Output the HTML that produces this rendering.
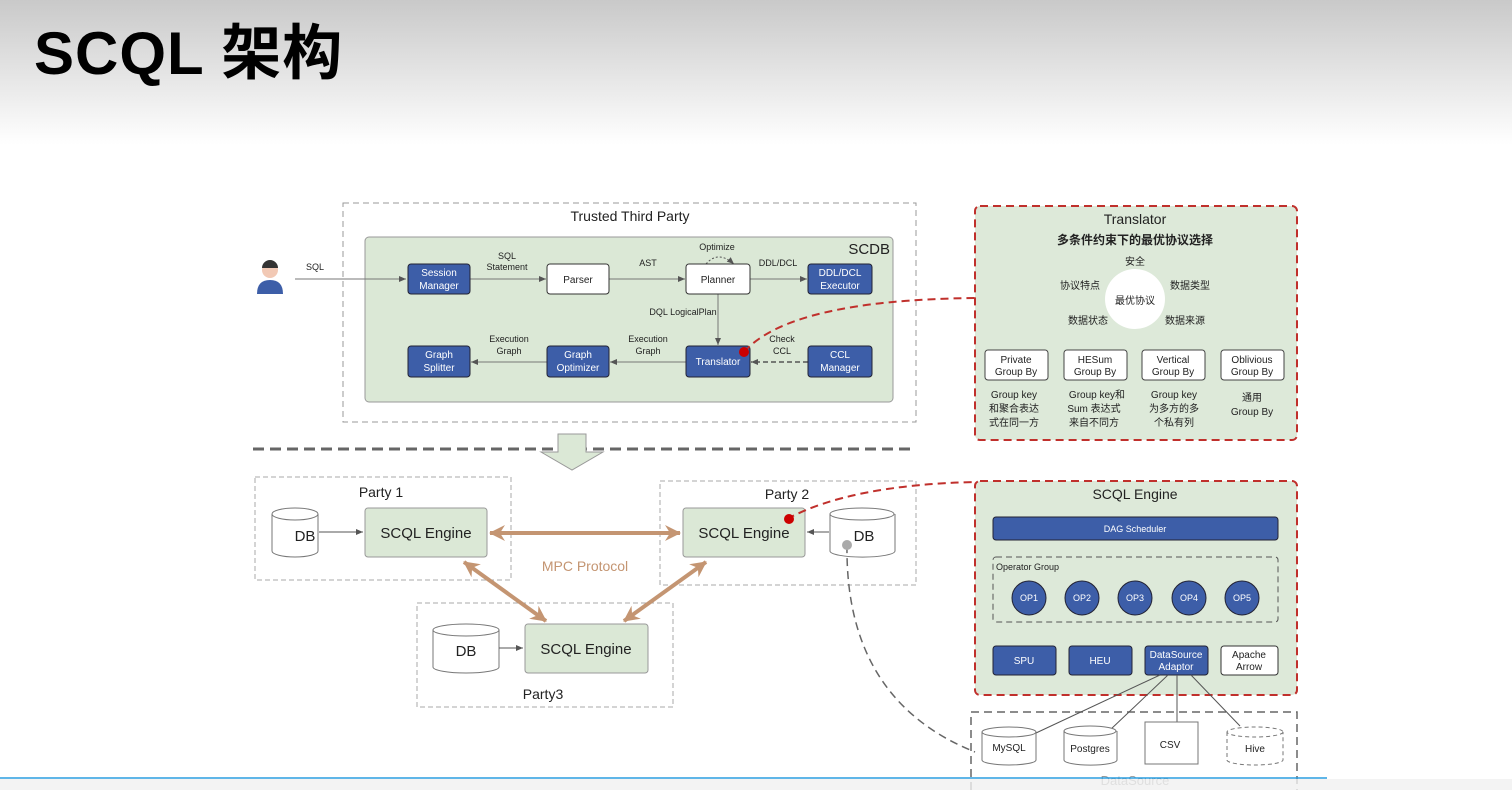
<!DOCTYPE html>
<html><head><meta charset="utf-8"><style>
html,body{margin:0;padding:0;width:1512px;height:790px;overflow:hidden;background:#fff}
svg{display:block}
text{font-family:"Liberation Sans","Noto Sans CJK SC",sans-serif}
</style></head><body>
<svg width="1512" height="790" viewBox="0 0 1512 790" xmlns="http://www.w3.org/2000/svg">
<defs>
<linearGradient id="hg" x1="0" y1="0" x2="0" y2="1">
<stop offset="0" stop-color="#c9c9c9"/><stop offset="1" stop-color="#ffffff"/>
</linearGradient>
<marker id="ar" markerWidth="8" markerHeight="8" refX="7" refY="4" orient="auto" markerUnits="userSpaceOnUse"><path d="M0,1 L7,4 L0,7 z" fill="#555"/></marker>
<marker id="br" markerWidth="18" markerHeight="16" refX="15" refY="8" orient="auto-start-reverse" markerUnits="userSpaceOnUse"><path d="M0,0 L16,8 L0,16 L5,8 z" fill="#c49572"/></marker>
</defs>
<rect x="0" y="0" width="1512" height="145" fill="url(#hg)"/>
<text x="34" y="74" font-size="60" font-weight="bold" fill="#000" letter-spacing="1">SCQL 架构</text>

<!-- Trusted third party -->
<rect x="343" y="203" width="573" height="219" fill="none" stroke="#999" stroke-dasharray="6,4"/>
<text x="630" y="221" font-size="14" text-anchor="middle" fill="#222">Trusted Third Party</text>
<rect x="365" y="237" width="528" height="165" rx="4" fill="#dbe8d6" stroke="#999"/>
<text x="890" y="254" font-size="15" text-anchor="end" fill="#222">SCDB</text>
<!-- person -->
<circle cx="270" cy="270" r="8" fill="#f2c9b5"/><path d="M262,268 a8,8 0 0 1 16,0 z" fill="#333"/>
<path d="M257,294 q0,-14 13,-14 q13,0 13,14 z" fill="#3d5ea8"/>
<g font-size="9" fill="#222" text-anchor="middle">
<line x1="295" y1="279" x2="406" y2="279" stroke="#777" marker-end="url(#ar)"/>
<text x="315" y="270">SQL</text>
<line x1="470" y1="279" x2="546" y2="279" stroke="#777" marker-end="url(#ar)"/>
<text x="507" y="259">SQL</text><text x="507" y="270">Statement</text>
<line x1="609" y1="279" x2="685" y2="279" stroke="#777" marker-end="url(#ar)"/>
<text x="648" y="266">AST</text>
<line x1="750" y1="279" x2="807" y2="279" stroke="#777" marker-end="url(#ar)"/>
<text x="778" y="266">DDL/DCL</text>
<path d="M706,264 q12,-14 28,0" fill="none" stroke="#555" stroke-dasharray="2,2" marker-end="url(#ar)"/>
<text x="717" y="250">Optimize</text>
<line x1="718" y1="294" x2="718" y2="345" stroke="#777" marker-end="url(#ar)"/>
<text x="683" y="315">DQL LogicalPlan</text>
<line x1="686" y1="362" x2="610" y2="362" stroke="#777" marker-end="url(#ar)"/>
<text x="648" y="342">Execution</text><text x="648" y="354">Graph</text>
<line x1="547" y1="362" x2="471" y2="362" stroke="#777" marker-end="url(#ar)"/>
<text x="509" y="342">Execution</text><text x="509" y="354">Graph</text>
<line x1="808" y1="362" x2="751" y2="362" stroke="#555" stroke-width="1.5" stroke-dasharray="5,3" marker-end="url(#ar)"/>
<text x="782" y="342">Check</text><text x="782" y="354">CCL</text>
</g>
<g font-size="10" text-anchor="middle">
<rect x="408" y="264" width="62" height="30" rx="3" fill="#3d5ea8" stroke="#223"/>
<text x="439" y="276" fill="#fff">Session</text><text x="439" y="289" fill="#fff">Manager</text>
<rect x="547" y="264" width="62" height="30" rx="3" fill="#fff" stroke="#333"/>
<text x="578" y="283" fill="#222">Parser</text>
<rect x="686" y="264" width="64" height="30" rx="3" fill="#fff" stroke="#333"/>
<text x="718" y="283" fill="#222">Planner</text>
<rect x="808" y="264" width="64" height="30" rx="3" fill="#3d5ea8" stroke="#223"/>
<text x="840" y="276" fill="#fff">DDL/DCL</text><text x="840" y="289" fill="#fff">Executor</text>
<rect x="408" y="346" width="62" height="31" rx="3" fill="#3d5ea8" stroke="#223"/>
<text x="439" y="358" fill="#fff">Graph</text><text x="439" y="371" fill="#fff">Splitter</text>
<rect x="547" y="346" width="62" height="31" rx="3" fill="#3d5ea8" stroke="#223"/>
<text x="578" y="358" fill="#fff">Graph</text><text x="578" y="371" fill="#fff">Optimizer</text>
<rect x="686" y="346" width="64" height="31" rx="3" fill="#3d5ea8" stroke="#223"/>
<text x="718" y="365" fill="#fff">Translator</text>
<rect x="808" y="346" width="64" height="31" rx="3" fill="#3d5ea8" stroke="#223"/>
<text x="840" y="358" fill="#fff">CCL</text><text x="840" y="371" fill="#fff">Manager</text>
</g>
<path d="M744,352 Q790,300 975,298" fill="none" stroke="#c0302c" stroke-width="2" stroke-dasharray="8,5"/>
<circle cx="744" cy="352" r="5" fill="#c00"/>

<!-- separator -->
<line x1="253" y1="449" x2="910" y2="449" stroke="#666" stroke-width="3" stroke-dasharray="11,6"/>
<path d="M558,434 H586 V452 H603 L572,470 L541,452 H558 Z" fill="#dbe8d6" stroke="#999"/>

<!-- parties -->
<g fill="none" stroke="#aaa" stroke-dasharray="5,3">
<rect x="255" y="477" width="256" height="103"/>
<rect x="660" y="481" width="256" height="104"/>
<rect x="417" y="603" width="256" height="104"/>
</g>
<g font-size="14" fill="#222" text-anchor="middle">
<text x="381" y="497">Party 1</text><text x="787" y="499">Party 2</text><text x="543" y="699">Party3</text>
</g>
<g stroke="#777" fill="#fff">
<path d="M272,514 V551 A23,6 0 0 0 318,551 V514"/><ellipse cx="295" cy="514" rx="23" ry="6"/>
<path d="M830,514 V551 A32,6 0 0 0 895,551 V514"/><ellipse cx="862" cy="514" rx="32" ry="6"/>
<path d="M433,630 V667 A33,6 0 0 0 499,667 V630"/><ellipse cx="466" cy="630" rx="33" ry="6"/>
</g>
<g font-size="15" fill="#222" text-anchor="middle">
<text x="305" y="541">DB</text><text x="864" y="541">DB</text><text x="466" y="656">DB</text>
</g>
<line x1="319" y1="532" x2="363" y2="532" stroke="#555" marker-end="url(#ar)"/>
<line x1="829" y1="532" x2="807" y2="532" stroke="#555" marker-end="url(#ar)"/>
<line x1="499" y1="648" x2="523" y2="648" stroke="#555" marker-end="url(#ar)"/>
<g fill="#dbe8d6" stroke="#999">
<rect x="365" y="508" width="122" height="49" rx="3"/>
<rect x="683" y="508" width="122" height="49" rx="3"/>
<rect x="525" y="624" width="123" height="49" rx="3"/>
</g>
<g font-size="15" fill="#222" text-anchor="middle">
<text x="426" y="538">SCQL Engine</text><text x="744" y="538">SCQL Engine</text><text x="586" y="654">SCQL Engine</text>
</g>
<g stroke="#c49572" stroke-width="4" marker-start="url(#br)" marker-end="url(#br)">
<line x1="490" y1="533" x2="680" y2="533"/>
<line x1="464" y1="562" x2="546" y2="621"/>
<line x1="706" y1="562" x2="624" y2="621"/>
</g>
<text x="585" y="571" font-size="14" fill="#c49572" text-anchor="middle">MPC Protocol</text>
<path d="M787,519 Q850,485 975,482" fill="none" stroke="#c0302c" stroke-width="2" stroke-dasharray="8,5"/>
<circle cx="789" cy="519" r="5" fill="#c00"/>
<path d="M847,545 Q845,700 975,752" fill="none" stroke="#666" stroke-width="1.5" stroke-dasharray="8,5"/>
<circle cx="847" cy="545" r="5" fill="#aaa"/>

<!-- Translator panel -->
<rect x="975" y="206" width="322" height="234" rx="5" fill="#dde9d9" stroke="#c0302c" stroke-width="2" stroke-dasharray="8,5"/>
<text x="1135" y="224" font-size="14" fill="#222" text-anchor="middle">Translator</text>
<text x="1135" y="244" font-size="12" font-weight="bold" fill="#222" text-anchor="middle">多条件约束下的最优协议选择</text>
<circle cx="1135" cy="299" r="30" fill="#fff"/>
<g font-size="10" fill="#222" text-anchor="middle">
<text x="1135" y="265">安全</text><text x="1080" y="289">协议特点</text><text x="1190" y="289">数据类型</text>
<text x="1135" y="304">最优协议</text><text x="1088" y="324">数据状态</text><text x="1185" y="324">数据来源</text>
</g>
<g fill="#fff" stroke="#444">
<rect x="985" y="350" width="63" height="30" rx="3"/><rect x="1064" y="350" width="63" height="30" rx="3"/>
<rect x="1142" y="350" width="63" height="30" rx="3"/><rect x="1221" y="350" width="63" height="30" rx="3"/>
</g>
<g font-size="10" fill="#222" text-anchor="middle">
<text x="1016" y="363">Private</text><text x="1016" y="375">Group By</text>
<text x="1095" y="363">HESum</text><text x="1095" y="375">Group By</text>
<text x="1173" y="363">Vertical</text><text x="1173" y="375">Group By</text>
<text x="1252" y="363">Oblivious</text><text x="1252" y="375">Group By</text>
<text x="1014" y="398">Group key</text><text x="1014" y="412">和聚合表达</text><text x="1014" y="426">式在同一方</text>
<text x="1097" y="398">Group key和</text><text x="1094" y="412">Sum 表达式</text><text x="1094" y="426">来自不同方</text>
<text x="1174" y="398">Group key</text><text x="1174" y="412">为多方的多</text><text x="1174" y="426">个私有列</text>
<text x="1252" y="401">通用</text><text x="1252" y="415">Group By</text>
</g>

<!-- SCQL Engine panel -->
<rect x="975" y="481" width="322" height="214" rx="5" fill="#dde9d9" stroke="#c0302c" stroke-width="2" stroke-dasharray="8,5"/>
<text x="1135" y="499" font-size="14" fill="#222" text-anchor="middle">SCQL Engine</text>
<rect x="993" y="517" width="285" height="23" rx="3" fill="#3d5ea8" stroke="#223"/>
<text x="1135" y="532" font-size="9" fill="#fff" text-anchor="middle">DAG Scheduler</text>
<rect x="993" y="557" width="285" height="65" rx="3" fill="none" stroke="#555" stroke-dasharray="6,4"/>
<text x="996" y="570" font-size="9" fill="#222">Operator Group</text>
<g fill="#3d5ea8" stroke="#223">
<circle cx="1029" cy="598" r="17"/><circle cx="1082" cy="598" r="17"/><circle cx="1135" cy="598" r="17"/><circle cx="1189" cy="598" r="17"/><circle cx="1242" cy="598" r="17"/>
</g>
<g font-size="9" fill="#fff" text-anchor="middle">
<text x="1029" y="601">OP1</text><text x="1082" y="601">OP2</text><text x="1135" y="601">OP3</text><text x="1189" y="601">OP4</text><text x="1242" y="601">OP5</text>
</g>
<rect x="993" y="646" width="63" height="29" rx="3" fill="#3d5ea8" stroke="#223"/>
<rect x="1069" y="646" width="63" height="29" rx="3" fill="#3d5ea8" stroke="#223"/>
<rect x="1145" y="646" width="63" height="29" rx="3" fill="#3d5ea8" stroke="#223"/>
<rect x="1221" y="646" width="57" height="29" rx="3" fill="#fff" stroke="#333"/>
<g font-size="10" text-anchor="middle">
<text x="1024" y="664" fill="#fff">SPU</text><text x="1100" y="664" fill="#fff">HEU</text>
<text x="1176" y="658" fill="#fff">DataSource</text><text x="1176" y="670" fill="#fff">Adaptor</text>
<text x="1249" y="658" fill="#222">Apache</text><text x="1249" y="670" fill="#222">Arrow</text>
</g>
<!-- datasource -->
<rect x="971" y="712" width="326" height="90" fill="none" stroke="#666" stroke-width="1.5" stroke-dasharray="8,5"/>
<g stroke="#555">
<line x1="1160" y1="675" x2="1036" y2="733"/><line x1="1168" y1="675" x2="1110" y2="730"/>
<line x1="1177" y1="675" x2="1177" y2="723"/><line x1="1191" y1="675" x2="1240" y2="726"/>
</g>
<g stroke="#777" fill="#fff">
<path d="M982,732 V760 A27,5 0 0 0 1036,760 V732"/><ellipse cx="1009" cy="732" rx="27" ry="5"/>
<path d="M1064,731 V760 A26,5 0 0 0 1117,760 V731"/><ellipse cx="1090" cy="731" rx="26" ry="5"/>
<rect x="1145" y="722" width="53" height="42"/>
<path d="M1227,732 V760 A28,5 0 0 0 1283,760 V732" stroke-dasharray="4,3"/><ellipse cx="1255" cy="732" rx="28" ry="5" stroke-dasharray="4,3"/>
</g>
<g font-size="10" fill="#222" text-anchor="middle">
<text x="1009" y="751">MySQL</text><text x="1090" y="752">Postgres</text><text x="1170" y="748">CSV</text><text x="1255" y="752">Hive</text>
</g>
<text x="1135" y="785" font-size="13" fill="#999" text-anchor="middle">DataSource</text>
<rect x="0" y="779" width="1512" height="11" fill="#f0f0f0" opacity="0.8"/>
<line x1="0" y1="778" x2="1327" y2="778" stroke="#2a9ee0" stroke-width="1.5"/>
</svg>
</body></html>
